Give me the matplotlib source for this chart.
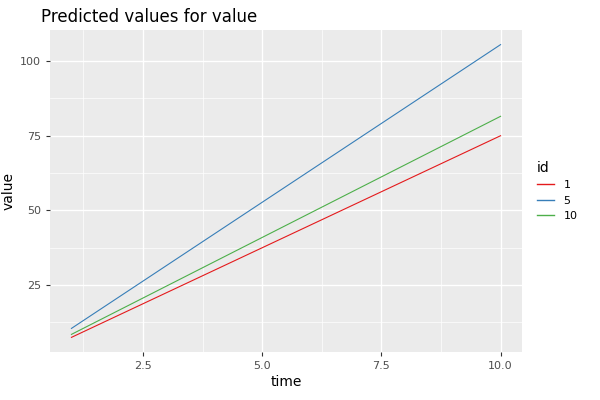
import matplotlib
matplotlib.use("Agg")
import matplotlib.pyplot as plt

time = [1, 10]
ids = ["1", "5", "10"]
values = {"1": [7.5, 75.0], "5": [10.5, 105.5], "10": [8.5, 81.5]}
colors = {"1": "#E41A1C", "5": "#377EB8", "10": "#4DAF4A"}

fig = plt.figure(figsize=(6, 4), dpi=100)
ax = fig.add_axes([50 / 600, 48 / 400, 472 / 600, 322 / 400])
ax.set_facecolor("#EBEBEB")
for i in ids:
    ax.plot(time, values[i], color=colors[i], lw=0.8, label=i)

ax.set_xlim(0.55, 10.45)
ax.set_ylim(2.6, 110.4)
ax.set_xticks([2.5, 5.0, 7.5, 10.0])
ax.set_yticks([25, 50, 75, 100])
ax.set_xticks([1.25, 3.75, 6.25, 8.75], minor=True)
ax.set_yticks([12.5, 37.5, 62.5, 87.5], minor=True)
ax.grid(True, which="major", color="white", lw=1.0)
ax.grid(True, which="minor", color="white", lw=0.5)
ax.set_axisbelow(True)
for s in ax.spines.values():
    s.set_visible(False)
ax.tick_params(which="both", length=3, color="#333333", labelsize=8, labelcolor="#4D4D4D")
ax.tick_params(which="minor", length=0)
ax.set_xlabel("time", fontsize=10, labelpad=3)
ax.set_ylabel("value", fontsize=10, labelpad=3)
ax.set_title("Predicted values for value", loc="left", fontsize=12, pad=6, x=-0.02)

leg = ax.legend(title="id", loc="center left", bbox_to_anchor=(1.01, 0.5),
                frameon=False, fontsize=8, title_fontsize=10,
                handlelength=1.6, alignment="left")
for h in leg.legend_handles:
    h.set_linewidth(1.0)

fig.savefig("out.png", dpi=100)
